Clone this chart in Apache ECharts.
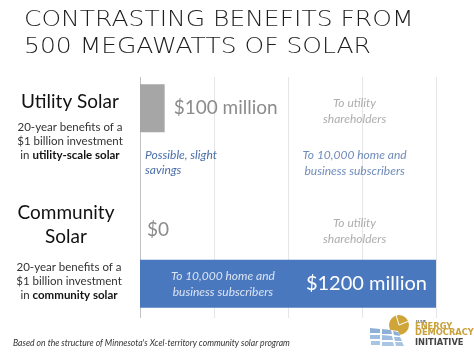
<!DOCTYPE html>
<html>
<head>
<meta charset="utf-8">
<script src="https://cdn.jsdelivr.net/npm/echarts@6/dist/echarts.min.js"></script>
<style>
html,body{margin:0;padding:0;background:#fff;}
#chart{width:474px;height:355px;}
</style>
</head>
<body>
<div id="chart"></div>
<script>
// ---- data ----
const categories = ['Utility Solar: to shareholders', 'Utility Solar: to subscribers', 'Community Solar: to shareholders', 'Community Solar: to subscribers'];
const benefits = [100, 0, 0, 1200]; // 20-year benefits, $ millions
const valueLabels = ['$100 million', 'Possible, slight\nsavings', '$0', '$1200 million'];
const notes = ['To utility\nshareholders', 'To 10,000 home and\nbusiness subscribers', 'To utility\nshareholders', 'To 10,000 home and\nbusiness subscribers'];
const ticks = [0, 300, 600, 900, 1200];

// ---- styles / layout ----
const GREY = '#8c8c8c', BLUE = '#4a6ea9', BAR_GREY = '#a6a6a6', BAR_BLUE = '#4a78bf';
const FONT = 'Lato';
const barColors = [BAR_GREY, BAR_GREY, BAR_GREY, BAR_BLUE];
const labelStyles = [
  {position: 'right', distance: 9, fontSize: 19, color: GREY, offset: [0, 0]},
  {position: 'right', distance: 5, fontSize: 12, fontStyle: 'italic', color: BLUE, lineHeight: 15, offset: [0, -4]},
  {position: 'right', distance: 7, fontSize: 19, color: GREY, offset: [0, 5]},
  {position: 'insideRight', distance: 9, fontSize: 20, color: '#fff', offset: [0, 0]}
];
const NOTE_X = 870, NOTE_X_INSIDE = 336;
const noteStyles = [
  {x: NOTE_X, color: '#999', offset: [0, 3]},
  {x: NOTE_X, color: BLUE, offset: [0, -4]},
  {x: NOTE_X, color: '#999', offset: [0, 6]},
  {x: NOTE_X_INSIDE, color: '#fff', offset: [0, 0]}
];

const chart = echarts.init(document.getElementById('chart'), null, {renderer: 'canvas'});

const barData = benefits.map((v, i) => ({
  value: v,
  itemStyle: {color: barColors[i]},
  label: Object.assign({show: true, formatter: valueLabels[i], fontFamily: FONT, align: 'left'}, labelStyles[i],
    i === 3 ? {align: 'right'} : {})
}));

const noteData = notes.map((t, i) => ({
  value: [noteStyles[i].x, i],
  label: {
    show: true, position: 'inside', formatter: t, color: noteStyles[i].color,
    fontFamily: FONT, fontStyle: 'italic', fontSize: 12, lineHeight: 16,
    align: 'center', verticalAlign: 'middle', offset: noteStyles[i].offset
  }
}));

const splitColors = ticks.map((t, i) => i === 0 ? '#c2c2c2' : '#e6e6e6');

const option = {
  backgroundColor: '#fff',
  animation: false,
  grid: [
    {left: 140, right: 38, top: 79, height: 234},
    {left: 140, right: 38, top: 77, bottom: 37}
  ],
  xAxis: [
    {type: 'value', gridIndex: 0, min: ticks[0], max: ticks[ticks.length - 1], interval: 300, show: false},
    {type: 'value', gridIndex: 1, min: ticks[0], max: ticks[ticks.length - 1], interval: 300,
      axisLine: {show: false}, axisTick: {show: false}, axisLabel: {show: false},
      splitLine: {show: true, showMinLine: true, showMaxLine: true, lineStyle: {color: splitColors, width: 1}}}
  ],
  yAxis: [
    {type: 'category', gridIndex: 0, data: categories, inverse: true, show: false},
    {type: 'value', gridIndex: 1, min: 0, max: 1, show: false}
  ],
  series: [
    {type: 'scatter', xAxisIndex: 1, yAxisIndex: 1, data: [], silent: true},
    {type: 'bar', xAxisIndex: 0, yAxisIndex: 0, data: barData, barWidth: 48, z: 3},
    {type: 'scatter', xAxisIndex: 0, yAxisIndex: 0, data: noteData, symbolSize: 0, z: 4, silent: true}
  ],
  graphic: [
    {type: 'text', x: 24, y: 7, scaleX: 1.19, style: {text: 'CONTRASTING BENEFITS FROM\n500 MEGAWATTS OF SOLAR',
      fill: '#1e1e1e', fontFamily: 'DejaVu Sans', fontWeight: 200, fontSize: 21, lineHeight: 27, align: 'left', verticalAlign: 'top'}},
    {type: 'text', x: 70, y: 102, style: {text: 'Utility Solar', fill: '#111', fontFamily: FONT, fontSize: 19, align: 'center', verticalAlign: 'middle'}},
    {type: 'text', x: 70, y: 141, style: {text: '20-year benefits of a\n$1 billion investment\nin {b|utility-scale solar}',
      fill: '#333', fontFamily: FONT, fontSize: 11.5, lineHeight: 14, align: 'center', verticalAlign: 'middle',
      rich: {b: {fontWeight: 'bold', fill: '#111', fontFamily: FONT, fontSize: 11.5}}}},
    {type: 'text', x: 66, y: 225, style: {text: 'Community\nSolar', fill: '#111', fontFamily: FONT, fontSize: 19, lineHeight: 24, align: 'center', verticalAlign: 'middle'}},
    {type: 'text', x: 69, y: 281, style: {text: '20-year benefits of a\n$1 billion investment\nin {b|community solar}',
      fill: '#333', fontFamily: FONT, fontSize: 11.5, lineHeight: 14, align: 'center', verticalAlign: 'middle',
      rich: {b: {fontWeight: 'bold', fill: '#111', fontFamily: FONT, fontSize: 11.5}}}},
    {type: 'text', x: 13, y: 343, style: {text: "Based on the structure of Minnesota's Xcel-territory community solar program",
      fill: '#333', fontFamily: FONT, fontStyle: 'italic', fontSize: 8.6, align: 'left', verticalAlign: 'middle'}},
    // logo
    {type: 'circle', shape: {cx: 399, cy: 325, r: 10}, style: {fill: '#cfa53a'}},
    {type: 'line', shape: {x1: 399, y1: 325, x2: 409, y2: 321}, style: {stroke: '#fff', lineWidth: 1}},
    {type: 'line', shape: {x1: 399, y1: 325, x2: 396, y2: 315}, style: {stroke: '#fff', lineWidth: 1}},
    {type: 'polygon', shape: {points: [[370, 327], [398, 331], [404, 346], [371, 346]]}, style: {fill: '#fff'}},
    {type: 'polygon', shape: {points: [[370, 328], [380, 329], [380, 333], [370, 333]]}, style: {fill: '#8fb0d6'}},
    {type: 'polygon', shape: {points: [[382, 329], [391, 330], [392, 334], [382, 334]]}, style: {fill: '#8fb0d6'}},
    {type: 'polygon', shape: {points: [[393, 331], [398, 332], [400, 336], [394, 335]]}, style: {fill: '#8fb0d6'}},
    {type: 'polygon', shape: {points: [[370, 335], [380, 335], [380, 339], [370, 339]]}, style: {fill: '#9fbde0'}},
    {type: 'polygon', shape: {points: [[382, 335], [392, 336], [393, 340], [382, 340]]}, style: {fill: '#9fbde0'}},
    {type: 'polygon', shape: {points: [[394, 337], [400, 337], [402, 341], [395, 341]]}, style: {fill: '#9fbde0'}},
    {type: 'polygon', shape: {points: [[371, 341], [380, 341], [380, 345], [371, 345]]}, style: {fill: '#a9c5e4'}},
    {type: 'polygon', shape: {points: [[382, 342], [393, 342], [394, 346], [382, 346]]}, style: {fill: '#a9c5e4'}},
    {type: 'polygon', shape: {points: [[395, 342], [402, 342], [404, 346], [396, 346]]}, style: {fill: '#a9c5e4'}},
    {type: 'text', x: 416, y: 322, style: {text: 'ILSR', fill: '#666', fontFamily: 'DejaVu Sans', fontSize: 4, fontWeight: 'bold', align: 'left', verticalAlign: 'middle'}},
    {type: 'text', x: 415, y: 330, style: {text: 'ENERGY\nDEMOCRACY', fill: '#c9a13b', fontFamily: 'DejaVu Sans', fontSize: 8.3, fontWeight: 'bold', lineHeight: 6.5, align: 'left', verticalAlign: 'middle'}},
    {type: 'text', x: 415, y: 342.5, style: {text: 'INITIATIVE', fill: '#444', fontFamily: 'DejaVu Sans', fontSize: 8.3, fontWeight: 'bold', align: 'left', verticalAlign: 'middle'}}
  ]
};
chart.setOption(option);
</script>
</body>
</html>
